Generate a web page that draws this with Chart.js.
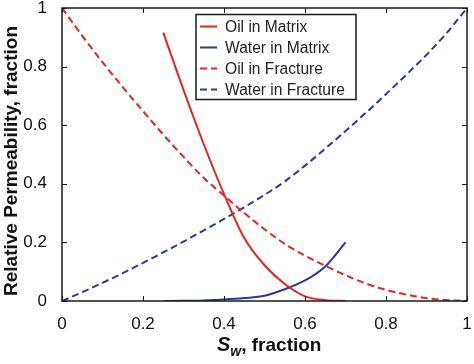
<!DOCTYPE html>
<html>
<head>
<meta charset="utf-8">
<script src="https://cdn.jsdelivr.net/npm/chart.js@4/dist/chart.umd.min.js"></script>
<style>
  html, body { margin: 0; padding: 0; background: #fff; }
  #wrap { width: 474px; height: 364px; }
</style>
</head>
<body>
<div id="wrap"><canvas id="chart" width="474" height="364"></canvas></div>
<script>
// Dados (Sw em fração)
const swMatrix    = [0.25, 0.3, 0.35, 0.4, 0.45, 0.5, 0.55, 0.6, 0.65, 0.7];
const oilMatrix   = [0.916, 0.72, 0.535, 0.365, 0.215, 0.122, 0.058, 0.016, 0.003, 0];
const waterMatrix = [0, 0.0005, 0.002, 0.005, 0.01, 0.018, 0.04, 0.07, 0.118, 0.2];

const swFracture    = [0, 0.05, 0.1, 0.15, 0.2, 0.25, 0.3, 0.35, 0.4, 0.45, 0.5,
                       0.55, 0.6, 0.65, 0.7, 0.75, 0.8, 0.85, 0.9, 0.95, 1];
const oilFracture   = [1, 0.905, 0.815, 0.73, 0.648, 0.568, 0.492, 0.42, 0.36, 0.3, 0.245,
                       0.195, 0.155, 0.12, 0.088, 0.06, 0.038, 0.022, 0.01, 0.003, 0];
const waterFracture = [0, 0.03, 0.062, 0.095, 0.13, 0.166, 0.203, 0.241, 0.28, 0.32, 0.362,
                       0.408, 0.462, 0.52, 0.58, 0.642, 0.706, 0.772, 0.84, 0.915, 1];

const seriesLabels = ['Oil in Matrix', 'Water in Matrix', 'Oil in Fracture', 'Water in Fracture'];
const xTickLabels  = ['0', '0.2', '0.4', '0.6', '0.8', '1'];
const yTickLabels  = ['0', '0.2', '0.4', '0.6', '0.8', '1'];

const RED  = '#e3261f';
const BLUE = '#2a3896';
const AXIS = '#1a1a1a';
const FONT = "'Liberation Sans', Arial, Helvetica, sans-serif";

const toPoints = (xs, ys) => xs.map((x, i) => ({ x, y: ys[i] }));

// ticks internos + moldura (estilo MATLAB)
const boxPlugin = {
  id: 'box',
  afterDatasetsDraw(chart) {
    const { ctx, chartArea: a, scales } = chart;
    ctx.save();
    ctx.strokeStyle = AXIS;
    ctx.lineWidth = 1.5;
    ctx.strokeRect(a.left, a.top, a.right - a.left, a.bottom - a.top);
    ctx.lineWidth = 1;
    const L = 5;
    xTickLabels.forEach(t => {
      const px = Math.round(scales.x.getPixelForValue(parseFloat(t))) + 0.5;
      ctx.beginPath();
      ctx.moveTo(px, a.bottom); ctx.lineTo(px, a.bottom - L);
      ctx.moveTo(px, a.top); ctx.lineTo(px, a.top + L);
      ctx.stroke();
    });
    yTickLabels.forEach(t => {
      const py = Math.round(scales.y.getPixelForValue(parseFloat(t))) + 0.5;
      ctx.beginPath();
      ctx.moveTo(a.left, py); ctx.lineTo(a.left + L, py);
      ctx.moveTo(a.right, py); ctx.lineTo(a.right - L, py);
      ctx.stroke();
    });
    ctx.restore();
  }
};

// legenda com caixa, dentro da área do gráfico
const legendPlugin = {
  id: 'boxLegend',
  afterDraw(chart) {
    const { ctx } = chart;
    const x0 = 196, y0 = 14.5, w = 160, h = 85;
    ctx.save();
    ctx.fillStyle = '#fff';
    ctx.fillRect(x0, y0, w, h);
    ctx.strokeStyle = AXIS;
    ctx.lineWidth = 1.5;
    ctx.strokeRect(x0, y0, w, h);
    ctx.font = `15.6px ${FONT}`;
    ctx.textBaseline = 'middle';
    chart.data.datasets.forEach((ds, i) => {
      const cy = y0 + 12 + i * 21;
      ctx.strokeStyle = ds.borderColor;
      ctx.lineWidth = 2;
      ctx.setLineDash(ds.borderDash || []);
      ctx.beginPath();
      ctx.moveTo(x0 + 4, cy); ctx.lineTo(x0 + 21, cy);
      ctx.stroke();
      ctx.setLineDash([]);
      ctx.fillStyle = '#222';
      ctx.fillText(ds.label, x0 + 29, cy + 1);
    });
    ctx.restore();
  }
};

// títulos dos eixos (Sw com subscrito)
const titlesPlugin = {
  id: 'titles',
  afterDraw(chart) {
    const { ctx } = chart;
    ctx.save();
    ctx.fillStyle = '#111';
    ctx.textBaseline = 'alphabetic';

    // eixo y
    ctx.translate(17, 161);
    ctx.rotate(-Math.PI / 2);
    ctx.font = `bold 19px ${FONT}`;
    ctx.textAlign = 'center';
    ctx.fillText('Relative Permeability, fraction', 0, 0);
    ctx.setTransform(1, 0, 0, 1, 0, 0);

    // eixo x
    ctx.textAlign = 'left';
    const base = 351;
    let x = 217;
    ctx.font = `italic bold 20px ${FONT}`;
    ctx.fillText('S', x, base);
    x += ctx.measureText('S').width;
    ctx.font = `italic bold 14px ${FONT}`;
    ctx.fillText('w', x, base + 5);
    x += ctx.measureText('w').width;
    ctx.font = `bold 19px ${FONT}`;
    ctx.fillText(', fraction', x, base);
    ctx.restore();
  }
};

new Chart(document.getElementById('chart'), {
  type: 'line',
  data: {
    datasets: [
      { label: seriesLabels[0], data: toPoints(swMatrix, oilMatrix), borderColor: RED },
      { label: seriesLabels[1], data: toPoints(swMatrix, waterMatrix), borderColor: BLUE },
      { label: seriesLabels[2], data: toPoints(swFracture, oilFracture), borderColor: RED, borderDash: [7, 4] },
      { label: seriesLabels[3], data: toPoints(swFracture, waterFracture), borderColor: BLUE, borderDash: [7, 4] },
    ].map(ds => ({ ...ds, borderWidth: 2, pointRadius: 0, fill: false, cubicInterpolationMode: 'monotone' }))
  },
  options: {
    responsive: false,
    animation: false,
    layout: { padding: { top: 8, right: 7, left: 0, bottom: 0 } },
    plugins: { legend: { display: false }, tooltip: { enabled: false } },
    scales: {
      x: {
        type: 'linear', min: 0, max: 1,
        grid: { display: false },
        border: { display: false },
        afterBuildTicks: s => { s.ticks = xTickLabels.map(t => ({ value: parseFloat(t) })); },
        afterFit: s => { s.height = 63; s.paddingLeft = 0; s.paddingRight = 0; },
        ticks: {
          padding: 5, maxRotation: 0, color: '#111',
          font: { family: FONT, size: 17 },
          callback: (v, i) => xTickLabels[i]
        }
      },
      y: {
        type: 'linear', min: 0, max: 1,
        grid: { display: false },
        border: { display: false },
        afterBuildTicks: s => { s.ticks = yTickLabels.map(t => ({ value: parseFloat(t) })); },
        afterFit: s => { s.width = 62; s.paddingTop = 0; s.paddingBottom = 0; },
        ticks: {
          padding: 7, color: '#111',
          font: { family: FONT, size: 17 },
          callback: (v, i) => yTickLabels[i]
        }
      }
    }
  },
  plugins: [boxPlugin, legendPlugin, titlesPlugin]
});
</script>
</body>
</html>
